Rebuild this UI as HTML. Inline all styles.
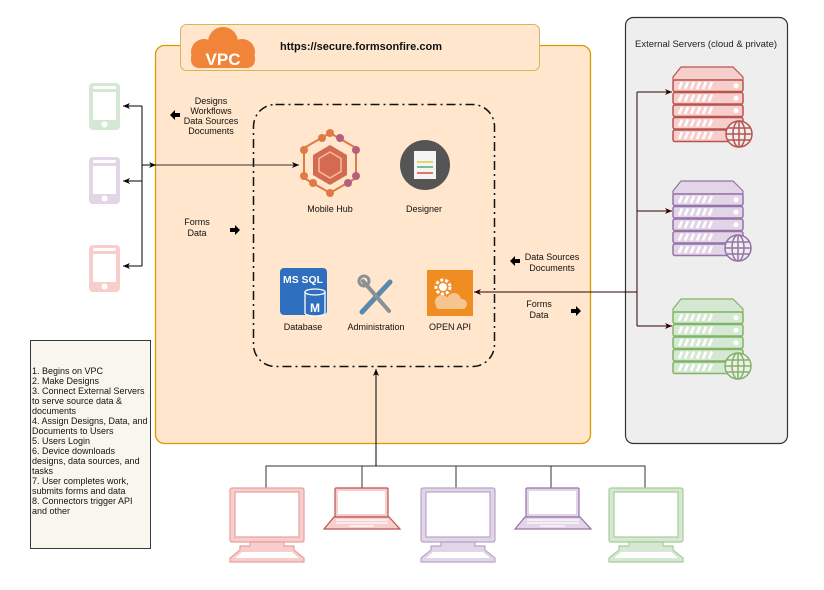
<!DOCTYPE html>
<html><head><meta charset="utf-8"><style>
html,body{margin:0;padding:0;background:#fff;}
svg{display:block;font-family:"Liberation Sans",Arial,sans-serif;}
</style></head><body>
<svg width="824" height="590" viewBox="0 0 824 590" xmlns="http://www.w3.org/2000/svg">
<defs>
<marker id="ar" markerWidth="8" markerHeight="8" refX="7" refY="4" orient="auto" markerUnits="userSpaceOnUse"><path d="M0,1 L7,4 L0,7 L2,4 Z" fill="#000"/></marker>
<marker id="ar2" markerWidth="8" markerHeight="8" refX="7" refY="4" orient="auto" markerUnits="userSpaceOnUse"><path d="M0,1 L7,4 L0,7 L2,4 Z" fill="#330000"/></marker>
<g id="phone"><rect x="0" y="0" width="31" height="47" rx="4"/><rect x="4" y="3" width="23" height="3" rx="1.5" fill="#fff"/><rect x="4" y="9" width="23" height="28" fill="#fff"/><circle cx="15.5" cy="41.5" r="3" fill="#fff"/></g>
<g id="srv">
<path d="M8,0 L60,0 L70,10 L70,13 L0,13 L0,10 Z"/>
<g id="unit"><rect x="0" y="13" width="70" height="11.5" rx="2" stroke-width="1.5"/><path d="M6,22 l3,-7 M12,22 l3,-7 M18,22 l3,-7 M24,22 l3,-7 M30,22 l3,-7 M36,22 l3,-7" stroke="#fff" stroke-width="2.5"/><circle cx="63" cy="18.7" r="2.5" fill="#fff" stroke="none"/></g>
<use href="#unit" y="12.5"/><use href="#unit" y="25"/><use href="#unit" y="37.5"/><use href="#unit" y="50"/>
</g>
<g id="mon"><rect x="0" y="0" width="74" height="54" rx="2"/><rect x="5" y="4" width="64" height="45" fill="#fff"/><path d="M20,54 L54,54 L54,58 L64,58 L64,62 L74,70 L74,74 L0,74 L0,70 L10,62 L10,58 L20,58 Z"/><path d="M12,64 L62,64 L69,70 L5,70 Z" fill="#fff" stroke="none"/></g>
<g id="lap"><rect x="11" y="0" width="53" height="29" rx="1"/><rect x="14" y="3" width="47" height="23" fill="#fff" stroke="none"/><path d="M10,29 L65,29 L76,41 L0,41 Z"/><path d="M12,32 L64,32 M12,35 L64,35 M25,38 L50,38" stroke="#fff" stroke-width="1.2"/></g>
<g id="globe" fill="none" stroke-width="1.5"><circle r="13" fill="#eee"/><ellipse rx="6" ry="13"/><path d="M-13,0 H13 M0,-13 V13 M-11,-6 H11 M-11,6 H11"/></g>
</defs>

<rect x="625.5" y="17.5" width="162" height="426" rx="8" fill="#eeeeee" stroke="#333" stroke-width="1.2"/>
<text x="706" y="47" font-size="9.5" text-anchor="middle" fill="#222">External Servers (cloud &amp; private)</text>

<rect x="155.5" y="45.5" width="435" height="398" rx="9" fill="#ffe6cc" stroke="#d79b00" stroke-width="1.3"/>
<rect x="180.5" y="24.5" width="359" height="46" rx="6" fill="#ffe6cc" stroke="#d6b656" stroke-width="1"/>
<g fill="#f0853a">
<circle cx="204" cy="52" r="13"/><circle cx="223" cy="42" r="15"/><circle cx="242" cy="52" r="13"/><rect x="191" y="50" width="64" height="18" rx="8"/>
</g>
<text x="223" y="65" font-size="17" font-weight="bold" fill="#fff" text-anchor="middle">VPC</text>
<text x="280" y="50" font-size="11" font-weight="bold" fill="#111">https://secure.formsonfire.com</text>

<rect x="253.5" y="104.5" width="241" height="262" rx="22" fill="none" stroke="#111" stroke-width="1.5" stroke-dasharray="9 4 2 4"/>

<g font-size="9" fill="#111" text-anchor="middle">
<text x="211" y="104">Designs</text><text x="211" y="114">Workflows</text><text x="211" y="124">Data Sources</text><text x="211" y="134">Documents</text>
<text x="197" y="225">Forms</text><text x="197" y="236">Data</text>
<text x="552" y="260">Data Sources</text><text x="552" y="271">Documents</text>
<text x="539" y="307">Forms</text><text x="539" y="318">Data</text>
<text x="330" y="212">Mobile Hub</text><text x="424" y="212">Designer</text>
<text x="303" y="330">Database</text><text x="376" y="330">Administration</text><text x="450" y="330">OPEN API</text>
</g>
<g fill="#000">
<path d="M170,115 l5,-5 v3 h5 v4 h-5 v3 z"/>
<path d="M240,230 l-5,-5 v3 h-5 v4 h5 v3 z"/>
<path d="M510,261 l5,-5 v3 h5 v4 h-5 v3 z"/>
<path d="M581,311 l-5,-5 v3 h-5 v4 h5 v3 z"/>
</g>

<g>
<path d="M330,133 L356,148 L356,178 L330,193 L304,178 L304,148 Z" fill="none" stroke="#e07a45" stroke-width="2"/>
<g fill="#e07a45"><circle cx="330" cy="133" r="4"/><circle cx="322" cy="138" r="4"/><circle cx="304" cy="150" r="4"/><circle cx="304" cy="176" r="4"/><circle cx="313" cy="183" r="4"/><circle cx="330" cy="193" r="4"/></g>
<g fill="#b5607a"><circle cx="340" cy="138" r="4"/><circle cx="356" cy="150" r="4"/><circle cx="356" cy="176" r="4"/><circle cx="348" cy="183" r="4"/></g>
<path d="M330,145 L347,155 L347,175 L330,185 L313,175 L313,155 Z" fill="#d46a50"/>
<path d="M330,152 L341,158.5 L341,171.5 L330,178 L319,171.5 L319,158.5 Z" fill="none" stroke="#f4c0a0" stroke-width="1.5"/>
</g>
<circle cx="425" cy="165" r="25" fill="#555"/>
<rect x="414" y="151" width="22" height="28" fill="#f4f4f4"/>
<path d="M417,162 h16" stroke="#e6c84a" stroke-width="1.5"/><path d="M417,167 h16" stroke="#4caf70" stroke-width="1.5"/><path d="M417,173 h16" stroke="#e0483a" stroke-width="1.5"/>

<rect x="280" y="268" width="47" height="47" rx="4" fill="#2f6fbf"/>
<text x="303" y="283" font-size="10.5" font-weight="bold" fill="#fff" text-anchor="middle" textLength="40" lengthAdjust="spacingAndGlyphs">MS SQL</text>
<path d="M305,292 v21 a10,3 0 0 0 20,0 v-21" fill="#2f6fbf" stroke="#fff" stroke-width="1.3"/>
<ellipse cx="315" cy="292" rx="10" ry="3" fill="#2f6fbf" stroke="#fff" stroke-width="1.3"/>
<text x="315" y="312" font-size="12" font-weight="bold" fill="#fff" text-anchor="middle">M</text>
<path d="M362,312 L390,282" stroke="#5a89b0" stroke-width="5" stroke-linecap="round"/>
<path d="M363,281 L389,311" stroke="#8a9096" stroke-width="4" stroke-linecap="round"/>
<circle cx="364" cy="281" r="5" fill="none" stroke="#8a9096" stroke-width="3"/>
<rect x="427" y="270" width="46" height="46" fill="#ef8d22"/>
<circle cx="443" cy="287" r="7" fill="none" stroke="#fff" stroke-width="3" stroke-dasharray="3 2"/>
<circle cx="443" cy="287" r="4" fill="#fff"/>
<g fill="#f6c48e"><circle cx="442" cy="302" r="7"/><circle cx="454" cy="300" r="7"/><circle cx="462" cy="304" r="5"/><rect x="436" y="302" width="30" height="7" rx="3"/></g>

<use href="#phone" x="89" y="83" fill="#d5e8d4"/>
<use href="#phone" x="89" y="157" fill="#e1d5e7"/>
<use href="#phone" x="89" y="245" fill="#f8cecc"/>
<g stroke="#000" stroke-width="1" fill="none">
<path d="M142,106 V266"/>
<path d="M142,106 H123" marker-end="url(#ar)"/>
<path d="M142,181 H123" marker-end="url(#ar)"/>
<path d="M142,266 H123" marker-end="url(#ar)"/>
<path d="M142,165 H156" marker-end="url(#ar)"/>
<path d="M156,165 H299" stroke="#333" marker-end="url(#ar)"/>
</g>

<rect x="30.5" y="340.5" width="120" height="208" fill="#f9f7ed" stroke="#36393d" stroke-width="1"/>
<g font-size="9" fill="#111">
<text x="32" y="374">1. Begins on VPC</text>
<text x="32" y="384">2. Make Designs</text>
<text x="32" y="394">3. Connect External Servers</text>
<text x="32" y="404">to serve source data &amp;</text>
<text x="32" y="414">documents</text>
<text x="32" y="424">4. Assign Designs, Data, and</text>
<text x="32" y="434">Documents to Users</text>
<text x="32" y="444">5. Users Login</text>
<text x="32" y="454">6. Device downloads</text>
<text x="32" y="464">designs, data sources, and</text>
<text x="32" y="474">tasks</text>
<text x="32" y="484">7. User completes work,</text>
<text x="32" y="494">submits forms and data</text>
<text x="32" y="504">8. Connectors trigger API</text>
<text x="32" y="514">and other</text>
</g>

<g stroke-width="1.2">
<use href="#srv" x="673" y="67" fill="#f8cecc" stroke="#b85450"/>
<use href="#globe" x="739" y="134" stroke="#b85450"/>
<use href="#srv" x="673" y="181" fill="#e1d5e7" stroke="#9673a6"/>
<use href="#globe" x="738" y="248" stroke="#9673a6"/>
<use href="#srv" x="673" y="299" fill="#d5e8d4" stroke="#82b366"/>
<use href="#globe" x="738" y="366" stroke="#82b366"/>
</g>
<g stroke="#330000" stroke-width="1" fill="none">
<path d="M637,92 V326"/>
<path d="M637,92 H672" marker-end="url(#ar2)"/>
<path d="M637,211 H672" marker-end="url(#ar2)"/>
<path d="M637,326 H672" marker-end="url(#ar2)"/>
<path d="M637,292 H474" marker-end="url(#ar2)"/>
</g>

<g stroke="#333" stroke-width="1" fill="none">
<path d="M266,488 V466 H645 V488 M362,466 V488 M456,466 V488 M551,466 V488"/>
<path d="M376,466 V369" stroke="#000" marker-end="url(#ar)"/>
</g>
<g stroke-width="1.2">
<use href="#mon" x="230" y="488" fill="#f8cecc" stroke="#e8a0a0"/>
<use href="#lap" x="324" y="488" fill="#f8cecc" stroke="#b85450"/>
<use href="#mon" x="421" y="488" fill="#e1d5e7" stroke="#b8a5c8"/>
<use href="#lap" x="515" y="488" fill="#e1d5e7" stroke="#9673a6"/>
<use href="#mon" x="609" y="488" fill="#d5e8d4" stroke="#a8cc98"/>
</g>
</svg>
</body></html>
